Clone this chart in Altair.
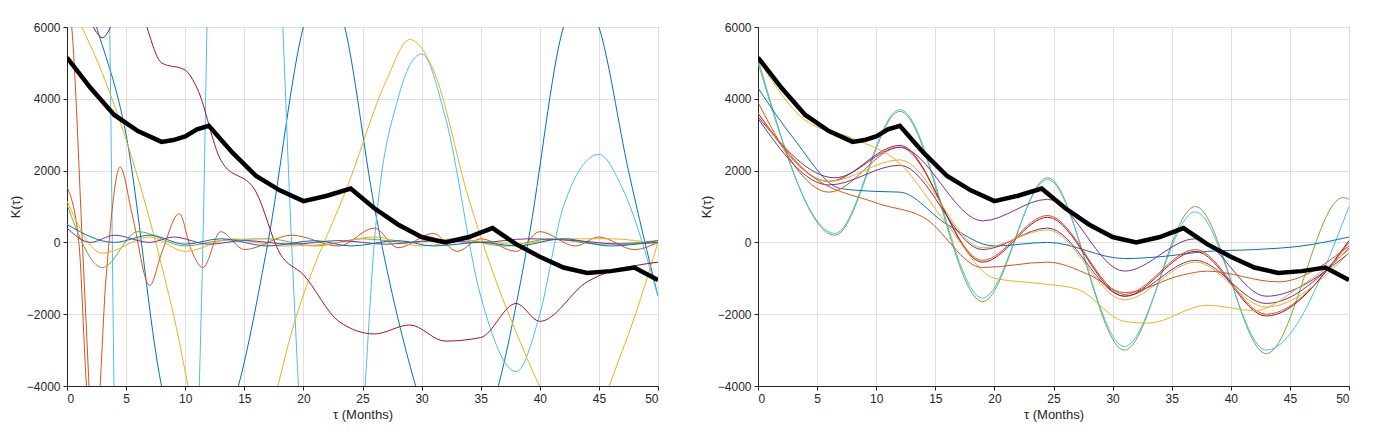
import pandas as pd
import altair as alt

# thick black reference curve (same in both panels)
black_t = [0, 2, 4, 6, 8, 9, 10, 11, 12, 14, 16, 18, 20, 22, 24, 26, 28, 30, 32, 34, 36, 38, 40, 42, 44, 46, 48, 50]
black_k = [5150, 4300, 3550, 3100, 2800, 2850, 2950, 3150, 3250, 2500, 1850, 1450, 1150, 1300, 1500, 950, 500, 150, 0, 150, 400, -50, -400, -700, -850, -800, -700, -1050]

# left panel: (name, colour, tau points, K points)
left_series = [
    ("L_blue_big", "#0072BD",
     [0, 2.5, 5, 8, 11, 14.5, 17, 20, 22, 23.5, 26, 29.5, 33, 36.5, 39, 42, 43.5, 45, 47.5, 50],
     [8500, 6000, 3000, -4000, -6500, -4000, 0, 6000, 7500, 6000, 1000, -4000, -7000, -4000, 0, 6000, 7000, 6000, 2000, -1500]),
    ("L_cyan_big", "#4DBEEE",
     [0, 3.5, 4.2, 8, 11, 11.5, 12, 15, 18, 19, 20, 22.5, 25, 26, 28, 30, 32, 35, 38, 40, 42, 45, 47, 50],
     [30000, 8000, -8000, -20000, -6000, 0, 8000, 20000, 8000, 0, -6000, -10000, -5000, 0, 4000, 5250, 3500, -1500, -3600, -2000, 1000, 2450, 1500, -1500]),
    ("L_yellow_big", "#EDB120",
     [0, 3, 6, 9, 11, 14, 17, 19, 24, 27, 29, 31, 34, 38, 41, 44, 47, 50],
     [6800, 4700, 1800, -2000, -5000, -6500, -5000, -2500, 1800, 4500, 5650, 4800, 1200, -2500, -4500, -5000, -3000, 0]),
    ("L_maroon", "#A2142F",
     [1, 2, 3, 4, 5, 6, 8, 10, 11, 13, 16, 18, 20, 23, 26, 29, 32, 35, 38, 40, 44, 46, 48, 50],
     [6500, 6100, 5700, 6200, 6800, 6600, 5000, 4800, 4300, 2300, 1400, -300, -900, -2200, -2550, -2300, -2750, -2650, -1700, -2200, -1100, -800, -650, -550]),
    ("L_orange_a", "#D95319", [0, 0.4, 1.3, 2], [7000, 6000, 0, -5000]),
    ("L_orange_b", "#D95319",
     [0, 1, 1.8, 2.5, 3.3, 4.5, 5.5, 7, 8, 9.5, 10.5, 11.5, 13, 15, 19, 23, 26, 28, 31, 33, 35, 38, 40, 43, 45, 48, 50],
     [1550, 0, -4500, -5000, -1000, 2100, 800, -1200, -300, 800, -200, -700, 300, -200, 200, -100, 400, -150, 250, -250, 100, -250, 300, -100, 150, -200, 0]),
    ("L_green", "#77AC30",
     [0, 3, 6, 10, 13, 17, 21, 25, 29, 33, 37, 41, 45, 50],
     [1050, -700, 300, -100, 50, 100, -100, 100, 0, 100, -100, 100, -50, 50]),
    ("L_yellow", "#EDB120",
     [0, 3, 7, 10, 14, 18, 22, 26, 30, 34, 38, 42, 46, 50],
     [1150, -300, 150, -250, 100, -100, -50, 150, -100, 50, -50, 100, 100, -50]),
    ("L_purple", "#7E2F8E",
     [0, 2, 4, 7, 9, 12, 15, 19, 23, 27, 31, 35, 39, 43, 47, 50],
     [400, 0, 200, 0, 150, -50, 50, -50, 50, -50, 50, 0, 100, 50, -50, 0]),
    ("L_blue", "#0072BD",
     [0, 4, 7, 10, 13, 17, 21, 24, 28, 31, 35, 38, 42, 46, 50],
     [500, 0, 200, -50, 100, -100, 50, -100, 50, -100, 0, -100, 100, -100, 50]),
]

right_series = [
    ("R_green", "#77AC30", [0, 6.5, 12, 19, 24.5, 31, 37, 43, 49.5, 50],
     [5100, 200, 3650, -1650, 1800, -3000, 1000, -3100, 1250, 1200]),
    ("R_cyan", "#4DBEEE", [0, 6.5, 12, 19, 24.5, 31, 37, 43, 50],
     [5000, 250, 3700, -1550, 1750, -2900, 850, -3000, 1000]),
    ("R_blue", "#0072BD", [0, 3, 7, 10, 12, 16, 20, 24.5, 31, 34, 38, 42, 46, 50],
     [4300, 2900, 1500, 1420, 1400, 500, -100, 0, -450, -400, -250, -200, -100, 150]),
    ("R_orange", "#D95319", [0, 6, 12, 19, 24.5, 31, 37, 43, 50],
     [3900, 1400, 2650, -500, 750, -1450, -200, -2000, 0]),
    ("R_maroon", "#A2142F", [0, 6, 12, 19, 24.5, 31, 37, 43, 50],
     [3600, 1700, 2700, -550, 700, -1500, -250, -2050, 50]),
    ("R_purple", "#7E2F8E", [0, 6.5, 12, 19, 24.5, 31, 37, 43, 50],
     [3500, 1800, 2650, 600, 1200, -800, 100, -1500, -300]),
    ("R_purple2", "#7E2F8E", [0, 6, 12, 19, 24.5, 31, 37, 43, 50],
     [3450, 1600, 2150, -200, 400, -1500, -500, -1700, -150]),
    ("R_yellow", "#EDB120", [0, 4, 8, 12, 16, 20, 24, 27, 31, 33, 38, 42, 46, 50],
     [5100, 3400, 2900, 2200, 500, -1000, -1150, -1300, -2200, -2250, -1750, -1900, -1200, -200]),
    ("R_yellow2", "#EDB120", [0, 6, 12, 19, 24.5, 31, 37, 43, 50],
     [3600, 1700, 2300, -150, 350, -1600, -550, -1800, -300]),
    ("R_orange2", "#D95319", [0, 4, 10, 14, 19, 24.5, 28, 31, 36, 38, 44, 50],
     [3600, 2000, 1100, 700, -700, -550, -900, -1400, -900, -800, -1100, -100]),
]

FONT = "Liberation Sans"
x_scale = alt.Scale(domain=[0, 50], nice=False)
y_scale = alt.Scale(domain=[-4000, 6000], nice=False)


def panel(series):
    rows = []
    for name, col, ts, ks in series:
        for t, k in zip(ts, ks):
            rows.append({"s": name, "t": t, "k": k})
    df = pd.DataFrame(rows)
    names = [s[0] for s in series]
    cols = [s[1] for s in series]
    thin = alt.Chart(df).mark_line(clip=True, interpolate="monotone", strokeWidth=1).encode(
        x=alt.X("t:Q", scale=x_scale, title="τ (Months)",
                axis=alt.Axis(values=list(range(0, 51, 5)), format="d")),
        y=alt.Y("k:Q", scale=y_scale, title="K(τ)",
                axis=alt.Axis(values=list(range(-4000, 6001, 1000)), format="d")),
        color=alt.Color("s:N", scale=alt.Scale(domain=names, range=cols), legend=None),
        detail="s:N",
    )
    bk = alt.Chart(pd.DataFrame({"t": black_t, "k": black_k})).mark_line(
        color="black", strokeWidth=4.5, clip=True).encode(x="t:Q", y="k:Q")
    return alt.layer(thin, bk).properties(width=591, height=359)


chart = alt.hconcat(panel(left_series), panel(right_series), spacing=40).resolve_scale(
    color="independent"
).properties(
    padding={"left": 0, "top": 12, "right": 5, "bottom": 5}
).configure(background="white").configure_view(
    stroke="#262626", strokeWidth=1
).configure_axis(
    grid=True, gridColor="#dfdfdf", domainColor="#262626", tickColor="#262626",
    tickSize=4, labelFont=FONT, titleFont=FONT, labelFontSize=12, titleFontSize=13,
    labelColor="#262626", titleColor="#262626", titleFontWeight="normal",
    labelPadding=3,
)

chart.save("out.html", embed_options={"renderer": "svg", "actions": False})
